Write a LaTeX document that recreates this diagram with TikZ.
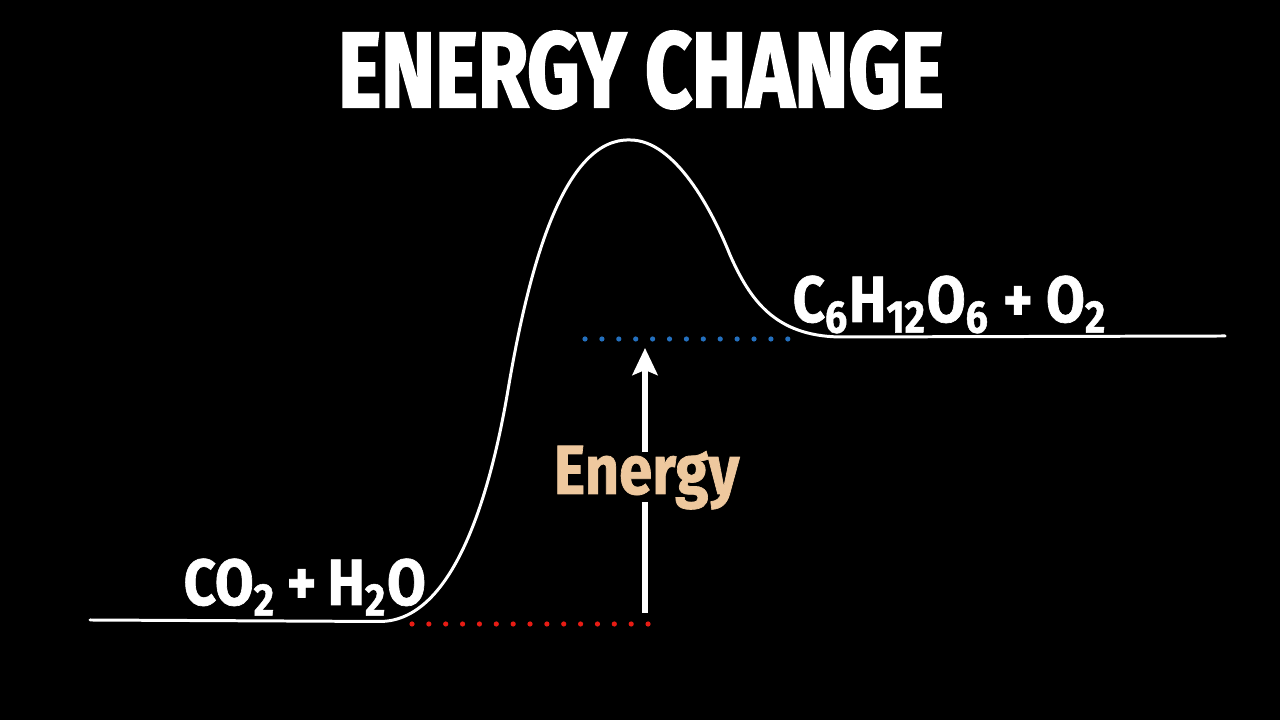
\documentclass[tikz,border=0pt]{standalone}
\usepackage{fontspec}
\setmainfont{Fira Sans}
\newfontfamily\titlefont[FakeStretch=0.76,FakeBold=2]{Fira Sans}
\newfontfamily\labelfont[FakeStretch=0.86,FakeBold=1]{Fira Sans}
\usepackage{xcolor}
\usepackage{tikz}
\usetikzlibrary{arrows.meta, positioning}

\definecolor{energytan}{RGB}{238,200,158}
\definecolor{dotred}{RGB}{232,28,20}
\definecolor{dotblue}{RGB}{36,112,190}

\begin{document}
\begin{tikzpicture}[
    heading/.style={text=white, inner sep=0, font=\titlefont\bfseries\fontsize{30.5}{32}\selectfont},
    species/.style={text=white, inner sep=0, anchor=base west, font=\labelfont\bfseries\fontsize{18.6}{20}\selectfont},
    pathline/.style={white, line width=0.85pt, line cap=round},
    arr/.style={-{Stealth[length=0.27cm, width=0.25cm, inset=0.05cm]}, white, line width=1.7pt}
]
\fill[black] (0,0) rectangle (12.8,7.2);
\useasboundingbox (0,0) rectangle (12.8,7.2);

\node[heading] (title) at (6.41,6.50) {ENERGY CHANGE};

% reaction path
\draw[pathline] (0.90,1.00) -- (3.80,0.985)
    .. controls (4.55,0.99) and (4.91,2.30) .. (5.08,3.30)
    .. controls (5.30,4.60) and (5.65,5.82) .. (6.30,5.80)
    .. controls (6.75,5.80) and (7.12,5.10) .. (7.30,4.65)
    .. controls (7.50,4.20) and (7.75,3.84) .. (8.40,3.83)
    -- (12.25,3.84);

% levels
\foreach \i in {0,...,14}
    \fill[dotred] (4.12+\i*0.1686,0.96) circle (0.026);
\foreach \i in {0,...,12}
    \fill[dotblue] (5.85+\i*0.169,3.81) circle (0.026);

\node[species] (reactants) at (1.83,1.15) {CO\textsubscript{2}\,+\,H\textsubscript{2}O};
\node[species] (products) at (7.92,3.98) {C\textsubscript{6}H\textsubscript{12}O\textsubscript{6} + O\textsubscript{2}};

\coordinate (arrbot) at (6.45,1.07);
\coordinate (arrtop) at (6.45,3.72);
\draw[arr] (arrbot) -- (arrtop);
\node[species, text=energytan, fill=black, font=\labelfont\bfseries\fontsize{19.8}{21}\selectfont,
      text height=0.42cm, text depth=0.08cm] (energy) at (5.53,2.26) {Energy};
\end{tikzpicture}
\end{document}
